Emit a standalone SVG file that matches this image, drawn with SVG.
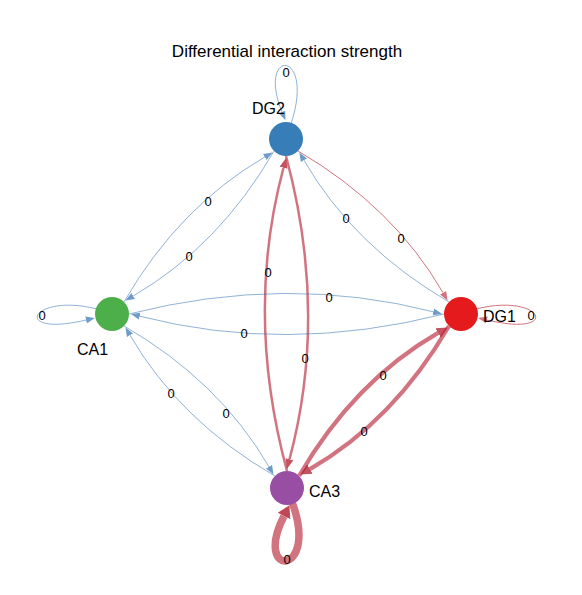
<svg xmlns="http://www.w3.org/2000/svg" width="582" height="595" viewBox="0 0 582 595">
<style>
  .b{fill:none;stroke:#2166ac;stroke-opacity:0.5;stroke-width:1}
  .r{fill:none;stroke:#b2182b;stroke-opacity:0.6}
  .lbl{font-family:"Liberation Sans",Arial,sans-serif;font-size:13px;fill:#000;text-anchor:middle}
  .nl{font-family:"Liberation Sans",Arial,sans-serif;font-size:16px;fill:#000}
  .title{font-family:"Liberation Sans",Arial,sans-serif;font-size:17px;fill:#000;text-anchor:middle}
</style>
<defs>
  <marker id="ab" viewBox="0 -8 14 16" markerWidth="14" markerHeight="16" refX="0" refY="0" orient="auto" markerUnits="userSpaceOnUse">
    <path d="M0,-3.5 L9,0 L0,3.5 Z" fill="#2166ac" fill-opacity="0.65"/>
  </marker>
  <marker id="ar1" viewBox="0 -8 14 16" markerWidth="14" markerHeight="16" refX="0" refY="0" orient="auto" markerUnits="userSpaceOnUse">
    <path d="M0,-3.5 L9,0 L0,3.5 Z" fill="#b2182b" fill-opacity="0.6"/>
  </marker>
  <marker id="ar2" viewBox="0 -8 14 16" markerWidth="14" markerHeight="16" refX="0" refY="0" orient="auto" markerUnits="userSpaceOnUse">
    <path d="M0,-4 L10,0 L0,4 Z" fill="#b2182b" fill-opacity="0.75"/>
  </marker>
  <marker id="ar3" viewBox="0 -8 14 16" markerWidth="14" markerHeight="16" refX="0" refY="0" orient="auto" markerUnits="userSpaceOnUse">
    <path d="M0,-5.5 L11,0 L0,5.5 Z" fill="#b2182b" fill-opacity="0.75"/>
  </marker>
  <marker id="ar4" viewBox="0 -8 14 16" markerWidth="14" markerHeight="16" refX="0" refY="0" orient="auto" markerUnits="userSpaceOnUse">
    <path d="M0,-7 L12,0 L0,7 Z" fill="#b2182b" fill-opacity="0.8"/>
  </marker>
</defs>
<rect width="582" height="595" fill="#ffffff"/>
<text class="title" x="287" y="57">Differential interaction strength</text>
<g id="connectors">
  <path id="e-CA1-DG2" class="b" d="M124.0,301.9 Q179.1,206.8 264.8,157.0" marker-end="url(#ab)"/>
  <path id="e-DG2-CA1" class="b" d="M274.0,151.1 Q218.9,246.2 133.2,296.0" marker-end="url(#ab)"/>
  <path id="e-DG1-DG2" class="b" d="M449.0,302.0 Q353.7,246.3 303.9,160.2" marker-end="url(#ab)"/>
  <path id="e-DG2-DG1" class="r" stroke-width="1" stroke-opacity="0.5" d="M298.0,151.0 Q393.3,206.7 443.1,292.8" marker-end="url(#ar1)"/>
  <path id="e-CA3-DG2" class="r" stroke-width="2.5" d="M287,471 Q244.5,313.6 283.5,167.7" marker-end="url(#ar2)"/>
  <path id="e-DG2-CA3" class="r" stroke-width="2.5" d="M286,156 Q328.5,313.4 289.5,459.3" marker-end="url(#ar2)"/>
  <path id="e-CA1-DG1" class="b" d="M129,314 Q286.5,274 433.3,311.8" marker-end="url(#ab)"/>
  <path id="e-DG1-CA1" class="b" d="M444,314 Q286.5,354 139.7,316.2" marker-end="url(#ab)"/>
  <path id="e-CA1-CA3" class="b" d="M124.1,326.0 Q219.2,381.1 269.0,466.8" marker-end="url(#ab)"/>
  <path id="e-CA3-CA1" class="b" d="M274.9,476.0 Q179.8,420.9 130.0,335.2" marker-end="url(#ab)"/>
  <path id="e-DG1-CA3" class="r" stroke-width="4.2" d="M449.0,326.0 Q393.8,420.8 309.9,469.1" marker-end="url(#ar3)"/>
  <path id="e-CA3-DG1" class="r" stroke-width="4.2" d="M299.0,476.0 Q354.2,381.2 438.1,332.9" marker-end="url(#ar3)"/>
  <path id="e-DG2-DG2" class="b" d="M291,124 C316,48 256,48 282,112" marker-end="url(#ab)"/>
  <path id="e-CA1-CA1" class="b" d="M97,309 C30,292 10,338 86,320" marker-end="url(#ab)"/>
  <path id="e-DG1-DG1" class="r" stroke-width="1" stroke-opacity="0.5" d="M476,309 C543,292 563,338 487,320" marker-end="url(#ar1)"/>
  <path id="e-CA3-CA3" class="r" stroke-width="7.5" d="M292,502 C320,577 252,579 284,516" marker-end="url(#ar4)"/>
  <text class="lbl" x="286" y="76.6">0</text>
  <text class="lbl" x="42" y="319.6">0</text>
  <text class="lbl" x="531" y="319.6">0</text>
  <text class="lbl" x="287" y="563.6">0</text>
  <text class="lbl" x="208" y="205.6">0</text>
  <text class="lbl" x="189" y="260.6">0</text>
  <text class="lbl" x="346" y="222.6">0</text>
  <text class="lbl" x="401" y="242.6">0</text>
  <text class="lbl" x="268" y="276.6">0</text>
  <text class="lbl" x="305" y="362.6">0</text>
  <text class="lbl" x="329" y="301.6">0</text>
  <text class="lbl" x="244" y="337.6">0</text>
  <text class="lbl" x="171" y="397.6">0</text>
  <text class="lbl" x="226" y="417.6">0</text>
  <text class="lbl" x="383" y="379.6">0</text>
  <text class="lbl" x="364" y="435.6">0</text>
</g>
<g id="node-DG2">
  <circle cx="286" cy="139" r="17" fill="#377EB8"/>
  <text class="nl" x="252" y="114">DG2</text>
</g>
<g id="node-CA1">
  <circle cx="112" cy="314" r="17" fill="#4DAF4A"/>
  <text class="nl" x="77" y="355">CA1</text>
</g>
<g id="node-DG1">
  <circle cx="461" cy="314" r="17" fill="#E41A1C"/>
  <text class="nl" x="483" y="322">DG1</text>
</g>
<g id="node-CA3">
  <circle cx="287" cy="488" r="17" fill="#984EA3"/>
  <text class="nl" x="309" y="497">CA3</text>
</g>
</svg>
